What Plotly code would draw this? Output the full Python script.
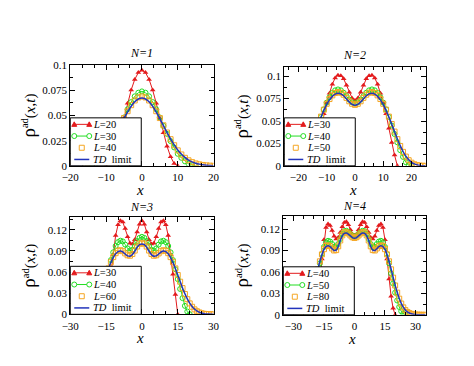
import plotly.graph_objects as go

FONT = "Liberation Serif"
W, H = 474, 366

# ---------------- data ----------------
# N=1
x1_a = list(range(-10, 11))
y1_a = [0, 0.0023, 0.0091, 0.0196, 0.0328, 0.0475, 0.0622, 0.0754, 0.0859, 0.0927, 0.095,
        0.0927, 0.0859, 0.0754, 0.0622, 0.0475, 0.0328, 0.0196, 0.0091, 0.0023, 0]
x1_b = list(range(-15, 16))
y1_b = [0, 0.0006, 0.002, 0.0045, 0.008, 0.012, 0.0183, 0.0246, 0.0318, 0.0398, 0.0481, 0.0562,
        0.0634, 0.0691, 0.0727, 0.074, 0.0727, 0.0691, 0.0634, 0.0562, 0.0481, 0.0398, 0.0318,
        0.0246, 0.0183, 0.012, 0.008, 0.0045, 0.002, 0.0006, 0]
x1_c = list(range(-20, 21))
y1_c = [0, 0.0002, 0.0005, 0.0009, 0.0015, 0.0024, 0.0037, 0.0055, 0.008, 0.0113, 0.0154, 0.0205,
        0.0265, 0.0331, 0.0403, 0.0475, 0.0543, 0.0603, 0.065, 0.068, 0.069, 0.068, 0.065, 0.0603,
        0.0543, 0.0475, 0.0403, 0.0331, 0.0265, 0.0205, 0.0154, 0.0113, 0.008, 0.0055, 0.0037,
        0.0024, 0.0015, 0.0009, 0.0005, 0.0002, 0]
x1_td = list(range(-20, 21))
y1_td = [0.0002, 0.0004, 0.0006, 0.001, 0.0017, 0.0026, 0.0039, 0.0058, 0.0084, 0.0117, 0.0158,
         0.0209, 0.0267, 0.0332, 0.0401, 0.047, 0.0535, 0.0592, 0.0637, 0.0665, 0.0675, 0.0665,
         0.0637, 0.0592, 0.0535, 0.047, 0.0401, 0.0332, 0.0267, 0.0209, 0.0158, 0.0117, 0.0084,
         0.0058, 0.0039, 0.0026, 0.0017, 0.001, 0.0006, 0.0004, 0.0002]

# N=2
x2_a = list(range(-15, 16))
y2_a = [0, 0.012, 0.026, 0.042, 0.058, 0.07, 0.081, 0.091, 0.098, 0.101, 0.1005, 0.097, 0.09,
        0.082, 0.0755, 0.073, 0.0755, 0.082, 0.09, 0.097, 0.1005, 0.101, 0.098, 0.091, 0.081,
        0.07, 0.058, 0.042, 0.026, 0.012, 0]
x2_b = list(range(-20, 21))
y2_b = [0, 0.001, 0.004, 0.01, 0.0175, 0.0262, 0.0355, 0.045, 0.0545, 0.063, 0.0705, 0.0765,
        0.0812, 0.0842, 0.0852, 0.0842, 0.0815, 0.0777, 0.0738, 0.0707, 0.0695, 0.0707, 0.0738,
        0.0777, 0.0815, 0.0842, 0.0852, 0.0842, 0.0812, 0.0765, 0.0705, 0.063, 0.0545, 0.045,
        0.0355, 0.0262, 0.0175, 0.01, 0.004, 0.001, 0]
x2_c = list(range(-25, 26))
y2_c = [0, 0.0001, 0.0003, 0.0008, 0.0018, 0.0035, 0.0063, 0.0103, 0.0156, 0.0222, 0.0298,
        0.0382, 0.0467, 0.0549, 0.0626, 0.0692, 0.0745, 0.0786, 0.0812, 0.0822, 0.0815, 0.0793,
        0.0758, 0.072, 0.0692, 0.068, 0.0692, 0.072, 0.0758, 0.0793, 0.0815, 0.0822, 0.0812,
        0.0786, 0.0745, 0.0692, 0.0626, 0.0549, 0.0467, 0.0382, 0.0298, 0.0222, 0.0156, 0.0103,
        0.0063, 0.0035, 0.0018, 0.0008, 0.0003, 0.0001, 0]
x2_td = list(range(-25, 26))
y2_td = [0.0001, 0.0002, 0.0005, 0.0011, 0.0022, 0.004, 0.0068, 0.0108, 0.016, 0.0225, 0.03,
         0.0382, 0.0465, 0.0545, 0.062, 0.0683, 0.0735, 0.0775, 0.08, 0.081, 0.0803, 0.0782,
         0.0748, 0.0712, 0.0685, 0.0675, 0.0685, 0.0712, 0.0748, 0.0782, 0.0803, 0.081, 0.08,
         0.0775, 0.0735, 0.0683, 0.062, 0.0545, 0.0465, 0.0382, 0.03, 0.0225, 0.016, 0.0108,
         0.0068, 0.004, 0.0022, 0.0011, 0.0005, 0.0002, 0.0001]

# N=3
x3_a = list(range(-15, 16))
y3_a = [0, 0.028, 0.057, 0.085, 0.112, 0.127, 0.133, 0.131, 0.122, 0.11, 0.101, 0.1, 0.106,
        0.117, 0.128, 0.133, 0.128, 0.117, 0.106, 0.1, 0.101, 0.11, 0.122, 0.131, 0.133, 0.127,
        0.112, 0.085, 0.057, 0.028, 0]
x3_b = list(range(-20, 21))
y3_b = [0, 0.004, 0.012, 0.023, 0.036, 0.05, 0.064, 0.077, 0.088, 0.097, 0.1025, 0.1045, 0.1035,
        0.099, 0.0935, 0.0905, 0.0915, 0.097, 0.104, 0.1085, 0.11, 0.1085, 0.104, 0.097, 0.0915,
        0.0905, 0.0935, 0.099, 0.1035, 0.1045, 0.1025, 0.097, 0.088, 0.077, 0.064, 0.05, 0.036,
        0.023, 0.012, 0.004, 0]
x3_c = list(range(-30, 31))
y3_c = [0, 0.0001, 0.0002, 0.0004, 0.0008, 0.0015, 0.0027, 0.0044, 0.007, 0.0107, 0.0155, 0.0215,
        0.0288, 0.0372, 0.0463, 0.0558, 0.0652, 0.074, 0.0812, 0.0868, 0.0902, 0.091, 0.0896,
        0.0865, 0.0838, 0.0832, 0.0856, 0.0905, 0.0962, 0.1002, 0.1015, 0.1002, 0.0962, 0.0905,
        0.0856, 0.0832, 0.0838, 0.0865, 0.0896, 0.091, 0.0902, 0.0868, 0.0812, 0.074, 0.0652,
        0.0558, 0.0463, 0.0372, 0.0288, 0.0215, 0.0155, 0.0107, 0.007, 0.0044, 0.0027, 0.0015,
        0.0008, 0.0004, 0.0002, 0.0001, 0]
x3_td = list(range(-30, 31))
y3_td = [0, 0.0001, 0.0003, 0.0005, 0.001, 0.0018, 0.003, 0.0048, 0.0075, 0.0112, 0.016, 0.022,
         0.0292, 0.0375, 0.0465, 0.0558, 0.065, 0.0735, 0.0805, 0.0858, 0.089, 0.0898, 0.0885,
         0.0855, 0.083, 0.0825, 0.0848, 0.0895, 0.095, 0.0988, 0.1, 0.0988, 0.095, 0.0895, 0.0848,
         0.0825, 0.083, 0.0855, 0.0885, 0.0898, 0.089, 0.0858, 0.0805, 0.0735, 0.065, 0.0558,
         0.0465, 0.0375, 0.0292, 0.022, 0.016, 0.0112, 0.0075, 0.0048, 0.003, 0.0018, 0.001,
         0.0005, 0.0003, 0.0001, 0]

# N=4
x4_a = list(range(-20, 21))
y4_a = [0, 0.009, 0.026, 0.05, 0.078, 0.105, 0.122, 0.127, 0.125, 0.118, 0.11, 0.106, 0.108,
        0.115, 0.123, 0.129, 0.13, 0.126, 0.119, 0.113, 0.111, 0.113, 0.119, 0.126, 0.13, 0.129,
        0.123, 0.115, 0.108, 0.106, 0.11, 0.118, 0.125, 0.127, 0.122, 0.105, 0.078, 0.05, 0.026,
        0.009, 0]
x4_b = list(range(-25, 26))
y4_b = [0, 0.0015, 0.005, 0.011, 0.02, 0.031, 0.044, 0.058, 0.072, 0.085, 0.095, 0.1015, 0.1035,
        0.1025, 0.099, 0.095, 0.0945, 0.099, 0.106, 0.113, 0.117, 0.1175, 0.116, 0.113, 0.1105,
        0.109, 0.1105, 0.113, 0.116, 0.1175, 0.117, 0.113, 0.106, 0.099, 0.0945, 0.095, 0.099,
        0.1025, 0.1035, 0.1015, 0.095, 0.085, 0.072, 0.058, 0.044, 0.031, 0.02, 0.011, 0.005,
        0.0015, 0]
x4_c = list(range(-35, 36))
y4_c = [0, 0, 0, 0.0001, 0.0002, 0.0004, 0.0007, 0.0013, 0.0024, 0.004, 0.0066, 0.0104, 0.0157,
        0.0226, 0.031, 0.041, 0.052, 0.0636, 0.0748, 0.0845, 0.0918, 0.0962, 0.0972, 0.096,
        0.0928, 0.09, 0.0905, 0.0958, 0.104, 0.1112, 0.115, 0.1155, 0.1138, 0.111, 0.1085,
        0.1075, 0.1085, 0.111, 0.1138, 0.1155, 0.115, 0.1112, 0.104, 0.0958, 0.0905, 0.09,
        0.0928, 0.096, 0.0972, 0.0962, 0.0918, 0.0845, 0.0748, 0.0636, 0.052, 0.041, 0.031,
        0.0226, 0.0157, 0.0104, 0.0066, 0.004, 0.0024, 0.0013, 0.0007, 0.0004, 0.0002, 0.0001,
        0, 0, 0]
x4_td = list(range(-35, 36))
y4_td = [0, 0, 0, 0.0001, 0.0002, 0.0004, 0.0008, 0.0014, 0.0025, 0.0042, 0.0068, 0.0107, 0.016,
         0.023, 0.0315, 0.0415, 0.0525, 0.064, 0.075, 0.0845, 0.0915, 0.0955, 0.0965, 0.0955,
         0.0925, 0.09, 0.0905, 0.0955, 0.1035, 0.1105, 0.114, 0.1145, 0.113, 0.1105, 0.108,
         0.107, 0.108, 0.1105, 0.113, 0.1145, 0.114, 0.1105, 0.1035, 0.0955, 0.0905, 0.09,
         0.0925, 0.0955, 0.0965, 0.0955, 0.0915, 0.0845, 0.075, 0.064, 0.0525, 0.0415, 0.0315,
         0.023, 0.016, 0.0107, 0.0068, 0.0042, 0.0025, 0.0014, 0.0008, 0.0004, 0.0002, 0.0001,
         0, 0, 0]

titles = ["N=1", "N=2", "N=3", "N=4"]
sizes = [["20", "30", "40"], ["30", "40", "50"], ["30", "40", "60"], ["40", "50", "80"]]
x_ranges = [[-20, 20], [-25, 25], [-30, 30], [-35, 35]]
y_ranges = [[0, 0.1], [0, 0.11], [0, 0.138], [0, 0.138]]
x_dticks = [10, 10, 15, 15]
y_dticks = [0.025, 0.025, 0.03, 0.03]

series = [
    [(x1_a, y1_a), (x1_b, y1_b), (x1_c, y1_c), (x1_td, y1_td)],
    [(x2_a, y2_a), (x2_b, y2_b), (x2_c, y2_c), (x2_td, y2_td)],
    [(x3_a, y3_a), (x3_b, y3_b), (x3_c, y3_c), (x3_td, y3_td)],
    [(x4_a, y4_a), (x4_b, y4_b), (x4_c, y4_c), (x4_td, y4_td)],
]

# ---------------- styling ----------------
RED = "#e31a1c"
GREEN = "#22dd22"
ORANGE = "#f5a623"
BLUE = "#2233bb"

# panel rectangles in pixels (left, right, top, bottom)
px_boxes = [(55, 203, 53, 157), (276, 422, 55, 157), (55, 203, 210, 310.5), (275, 422, 209, 311)]
y_title_standoff = [3, 4, 8, 8]
title_shift = [4, 4, 2, 2]

YTITLE = '<span style="font-size:19px">ρ</span><sup>ad</sup>(<i>x</i>,<i>t</i>)'


def dom(b):
    l, r, t, bt = b
    return [l / W, r / W], [(H - bt) / H, (H - t) / H]


fig = go.Figure()
shapes = []
annotations = []

for i in range(4):
    ax = "" if i == 0 else str(i + 1)
    xd, yd = dom(px_boxes[i])
    (xa, ya), (xb, yb), (xc, yc), (xt, yt) = series[i]
    xr, yr = "x" + ax, "y" + ax
    fig.add_trace(go.Scatter(x=xa, y=ya, mode="lines+markers", xaxis=xr, yaxis=yr,
                             line=dict(color=RED, width=1),
                             marker=dict(symbol="triangle-up", size=5, color=RED),
                             showlegend=False))
    fig.add_trace(go.Scatter(x=xb, y=yb, mode="lines+markers", xaxis=xr, yaxis=yr,
                             line=dict(color=GREEN, width=1),
                             marker=dict(symbol="circle-open", size=5, color=GREEN,
                                         line=dict(width=1)),
                             showlegend=False))
    fig.add_trace(go.Scatter(x=xc, y=yc, mode="markers", xaxis=xr, yaxis=yr,
                             marker=dict(symbol="square-open", size=5, color=ORANGE,
                                         line=dict(width=1)),
                             showlegend=False))
    fig.add_trace(go.Scatter(x=xt, y=yt, mode="lines", xaxis=xr, yaxis=yr,
                             line=dict(color=BLUE, width=1.5, shape="spline", smoothing=0.6),
                             showlegend=False))

    common = dict(showline=True, linecolor="black", linewidth=1, mirror="allticks",
                  ticks="inside", ticklen=5, tickwidth=1, tickcolor="black",
                  showgrid=False, zeroline=False,
                  tickfont=dict(family=FONT, size=11, color="black"))
    fig.layout["xaxis" + ax] = dict(domain=xd, range=x_ranges[i], dtick=x_dticks[i], tick0=0,
                                    anchor="y" + ax,
                                    minor=dict(dtick=x_dticks[i] / 3, ticks="inside",
                                               ticklen=3, tickcolor="black"),
                                    ticklabelstandoff=1, **common)
    fig.layout["yaxis" + ax] = dict(domain=yd, range=y_ranges[i], dtick=y_dticks[i], tick0=0,
                                    anchor="x" + ax,
                                    minor=dict(dtick=y_dticks[i] / 2, ticks="inside",
                                               ticklen=3, tickcolor="black"),
                                    title=dict(text=YTITLE, standoff=y_title_standoff[i],
                                               font=dict(family=FONT, size=15, color="black")),
                                    **common)

    xc0 = (xd[0] + xd[1]) / 2
    # panel title
    annotations.append(dict(text="<i>" + titles[i] + "</i>", xref="paper", yref="paper",
                            x=xc0, y=yd[1], yshift=title_shift[i], xanchor="center",
                            yanchor="bottom", showarrow=False, borderpad=0,
                            font=dict(family=FONT, size=12, color="black")))
    # x axis title
    annotations.append(dict(text="<i>x</i>", xref="paper", yref="paper",
                            x=xc0, xshift=-2, y=yd[0], yshift=-15, xanchor="center",
                            yanchor="top", showarrow=False, borderpad=0,
                            font=dict(family=FONT, size=15, color="black")))

    # legend box (pixel sized, anchored to the lower-left plot corner)
    base = dict(xref="paper", yref="paper", xsizemode="pixel", ysizemode="pixel",
                xanchor=xd[0], yanchor=yd[0], layer="above")
    shapes.append(dict(type="rect", x0=0, x1=71, y0=0, y1=48,
                       line=dict(color="black", width=1), fillcolor="white", **base))
    rows = [41.5, 29.8, 18.1, 6.4]
    # red
    shapes.append(dict(type="line", x0=4, x1=19, y0=rows[0], y1=rows[0],
                       line=dict(color=RED, width=1), **base))
    for mx in (4, 19):
        shapes.append(dict(type="path",
                           path=f"M{mx-2.5},{rows[0]-2} L{mx+2.5},{rows[0]-2} L{mx},{rows[0]+2.5} Z",
                           fillcolor=RED, line=dict(color=RED, width=1), **base))
    # green
    shapes.append(dict(type="line", x0=4, x1=19, y0=rows[1], y1=rows[1],
                       line=dict(color=GREEN, width=1), **base))
    for mx in (4, 19):
        shapes.append(dict(type="circle", x0=mx - 2.5, x1=mx + 2.5, y0=rows[1] - 2.5,
                           y1=rows[1] + 2.5, fillcolor="white",
                           line=dict(color=GREEN, width=1), **base))
    # orange
    shapes.append(dict(type="rect", x0=9, x1=14, y0=rows[2] - 2.5, y1=rows[2] + 2.5,
                       line=dict(color=ORANGE, width=1), **base))
    # blue
    shapes.append(dict(type="line", x0=4, x1=19, y0=rows[3], y1=rows[3],
                       line=dict(color=BLUE, width=1.5), **base))
    labels = ["<i>L</i>=" + s for s in sizes[i]] + ["<i>TD</i>  limit"]
    for r, lab in zip(rows, labels):
        annotations.append(dict(text=lab, xref="paper", yref="paper", x=xd[0], xshift=22,
                                y=yd[0], yshift=r, xanchor="left", yanchor="middle",
                                showarrow=False, borderpad=0,
                                font=dict(family=FONT, size=10.5, color="black")))

fig.update_layout(width=W, height=H, margin=dict(l=0, r=0, t=0, b=0),
                  paper_bgcolor="white", plot_bgcolor="white",
                  shapes=shapes, annotations=annotations, showlegend=False,
                  font=dict(family=FONT, color="black"))

fig.write_html("out.html")
